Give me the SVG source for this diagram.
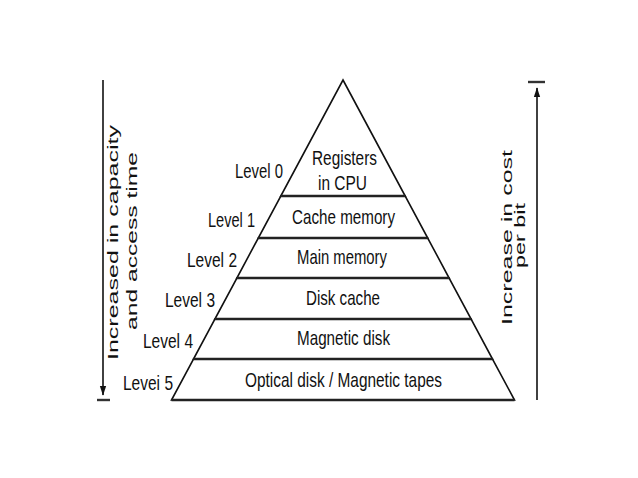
<svg xmlns="http://www.w3.org/2000/svg" width="638" height="478" viewBox="0 0 638 478">
<style>
.tier{fill:#fff;stroke:#111;stroke-width:1.6;stroke-linejoin:miter}
.div{stroke:#222;stroke-width:2.4}
.t{font-family:"Liberation Sans",Arial,sans-serif;font-size:21px;fill:#111}
.v{font-family:"Liberation Sans",Arial,sans-serif;font-size:14px;fill:#111}
.ax{stroke:#111;stroke-width:1.6;fill:none}
.bar{stroke:#333;stroke-width:2.4}
</style>
<defs>
<marker id="ah" markerUnits="userSpaceOnUse" markerWidth="10" markerHeight="14" refX="13" refY="4.5" orient="auto" viewBox="0 0 14 9">
<path d="M0,0 L14,4.5 L0,9 Z" fill="#111"/>
</marker>
</defs>
<rect width="638" height="478" fill="#fff"/>
<g id="level0">
<polygon class="tier" points="343,80 405.2,196 280.8,196"/>
<text class="t" x="312" y="165" textLength="65" lengthAdjust="spacingAndGlyphs">Registers</text>
<text class="t" x="318" y="190" textLength="49" lengthAdjust="spacingAndGlyphs">in CPU</text>
<text class="t" x="235" y="178" textLength="48" lengthAdjust="spacingAndGlyphs">Level 0</text>
</g>
<g id="level1">
<polygon class="tier" points="280.8,196 405.2,196 427.7,238 258.3,238"/>
<text class="t" x="292" y="224" textLength="103" lengthAdjust="spacingAndGlyphs">Cache memory</text>
<text class="t" x="208" y="227" textLength="47" lengthAdjust="spacingAndGlyphs">Level 1</text>
</g>
<g id="level2">
<polygon class="tier" points="258.3,238 427.7,238 449.1,278 236.9,278"/>
<text class="t" x="297" y="264" textLength="90" lengthAdjust="spacingAndGlyphs">Main memory</text>
<text class="t" x="187" y="267" textLength="50" lengthAdjust="spacingAndGlyphs">Level 2</text>
</g>
<g id="level3">
<polygon class="tier" points="236.9,278 449.1,278 471.1,319 214.9,319"/>
<text class="t" x="306" y="305" textLength="74" lengthAdjust="spacingAndGlyphs">Disk cache</text>
<text class="t" x="165" y="307" textLength="50" lengthAdjust="spacingAndGlyphs">Level 3</text>
</g>
<g id="level4">
<polygon class="tier" points="214.9,319 471.1,319 492.5,359 193.5,359"/>
<text class="t" x="297" y="345" textLength="93" lengthAdjust="spacingAndGlyphs">Magnetic disk</text>
<text class="t" x="143" y="348" textLength="50" lengthAdjust="spacingAndGlyphs">Level 4</text>
</g>
<g id="level5">
<polygon class="tier" points="193.5,359 492.5,359 514.5,400 171.5,400"/>
<text class="t" x="245" y="387" textLength="197" lengthAdjust="spacingAndGlyphs">Optical disk / Magnetic tapes</text>
<text class="t" x="123" y="390" textLength="50" lengthAdjust="spacingAndGlyphs">Levei 5</text>
</g>
<g id="dividers">
<line class="div" x1="280.8" y1="196" x2="405.2" y2="196"/>
<line class="div" x1="258.3" y1="238" x2="427.7" y2="238"/>
<line class="div" x1="236.9" y1="278" x2="449.1" y2="278"/>
<line class="div" x1="214.9" y1="319" x2="471.1" y2="319"/>
<line class="div" x1="193.5" y1="359" x2="492.5" y2="359"/>
<line class="div" x1="171.5" y1="400" x2="514.5" y2="400"/>
</g>
<g id="connectors">
<line class="ax" x1="103" y1="80" x2="103" y2="395" marker-end="url(#ah)"/>
<line class="bar" x1="97" y1="400" x2="110" y2="400"/>
<line class="ax" x1="537" y1="400" x2="537" y2="88" marker-end="url(#ah)"/>
<line class="bar" x1="528" y1="82" x2="545" y2="82"/>
</g>
<g id="left-label">
<text class="v" transform="translate(118,242.5) rotate(-90)" text-anchor="middle" textLength="235" lengthAdjust="spacingAndGlyphs">Increased in capacity</text>
<text class="v" transform="translate(137,241) rotate(-90)" text-anchor="middle" textLength="178" lengthAdjust="spacingAndGlyphs">and access time</text>
</g>
<g id="right-label">
<text class="v" transform="translate(512,237.5) rotate(-90)" text-anchor="middle" textLength="175" lengthAdjust="spacingAndGlyphs">Increase in cost</text>
<text class="v" transform="translate(525,235.5) rotate(-90)" text-anchor="middle" textLength="65" lengthAdjust="spacingAndGlyphs">per bit</text>
</g>
</svg>
